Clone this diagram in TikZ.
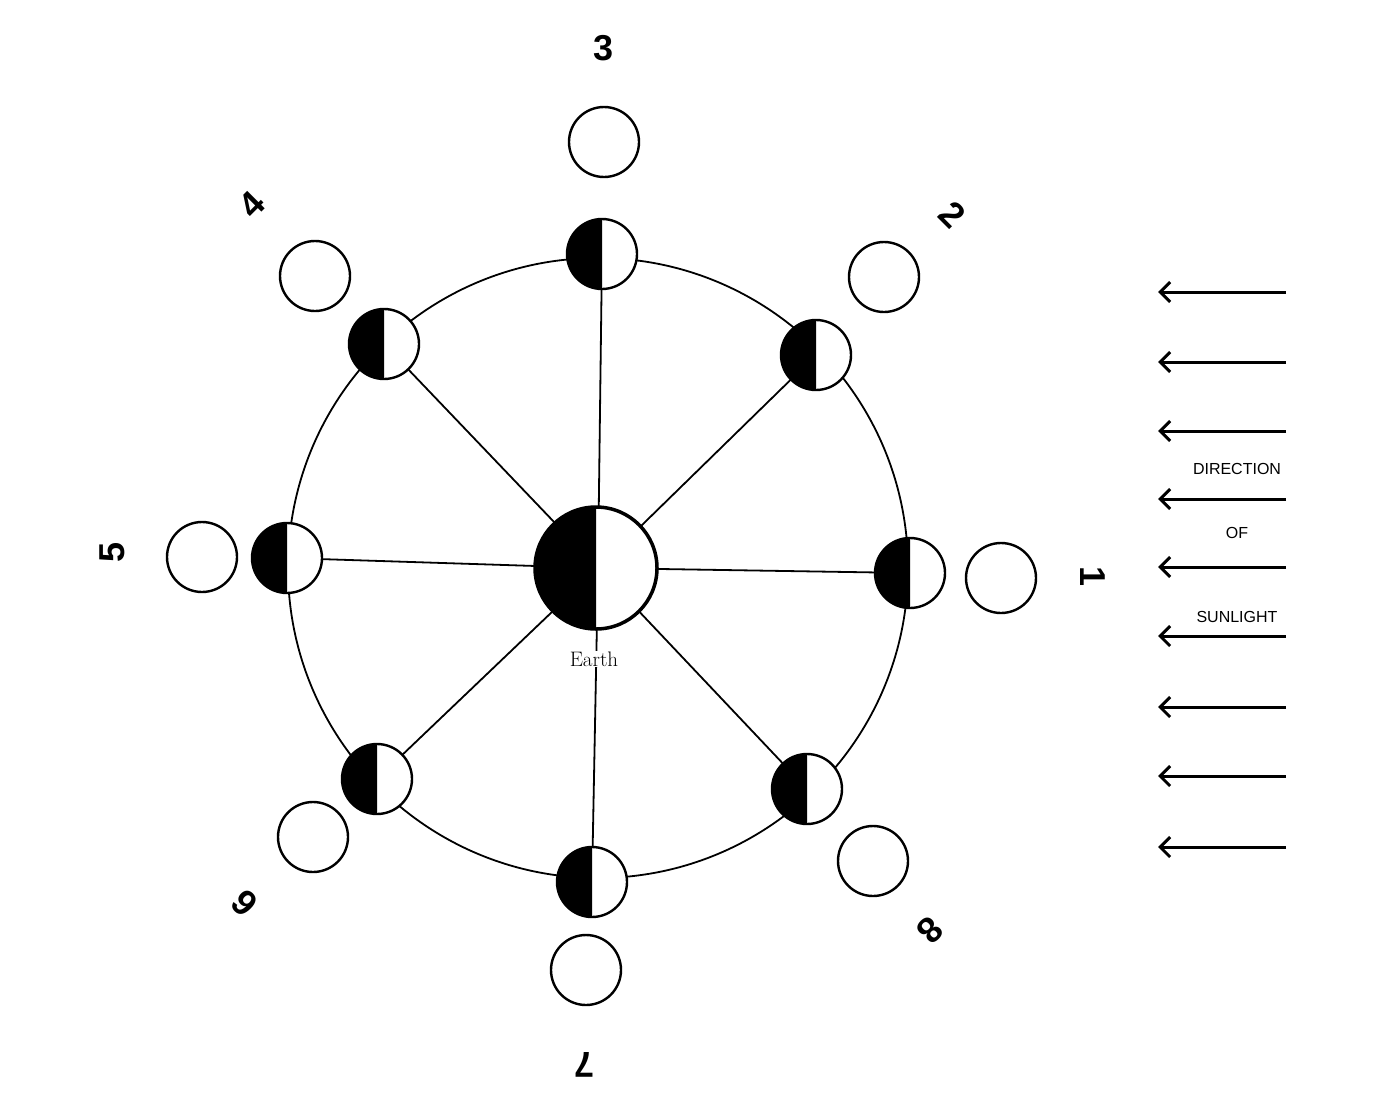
\documentclass[tikz,border=0pt]{standalone}
\usepackage{fontspec}
\newfontfamily\lab{Liberation Sans}
\usetikzlibrary{arrows.meta}
\begin{document}
\begin{tikzpicture}[x=1pt,y=-1pt,line width=2pt,
  outer/.style={circle,draw,line width=2.4pt,minimum size=70pt,inner sep=0pt},
  num/.style={font=\lab\bfseries\fontsize{36}{36}\selectfont},
  sun/.style={font=\lab\fontsize{16}{16}\selectfont},
  ray/.style={->,line width=3pt,>={Straight Barb[length=10pt,width=20pt,line width=3pt]}}]
\useasboundingbox (0,0) rectangle (1400,1100);
\coordinate (O) at (598,568);
\draw[line width=1.8pt] (O) circle[radius=310];
\foreach \n/\x/\y in {m1/910/573,m2/816/355,m3/602/254,m4/384/344,m5/287/558,m6/377/779,m7/592/882,m8/807/789}{
  \draw[line width=1.8pt] (O) -- (\x,\y);
  \fill[white] (\x,\y) circle[radius=35];
  \fill (\x,\y) ++(0,-35) arc[start angle=-90,end angle=-270,radius=35] -- cycle;
  \node[circle,draw,line width=2.4pt,minimum size=70pt,inner sep=0pt] (\n) at (\x,\y) {};
}
\fill[white] (596,568) circle[radius=61];
\fill (596,568) ++(0,-61) arc[start angle=-90,end angle=-270,radius=61] -- cycle;
\node[circle,draw,line width=3.5pt,minimum size=122pt,inner sep=0pt] (E) at (596,568) {};
\node[font=\fontsize{21}{21}\selectfont,fill=white,inner sep=1pt] (el) at (594,659) {Earth};
\foreach \n/\x/\y in {o1/1001/578,o2/884/277,o3/604/142,o4/315/276,o5/202/557,o6/313/837,o7/586/970,o8/873/861}
  \node[outer] (\n) at (\x,\y) {};
\node[num] (l1) at (1093,577) [rotate=-90] {1};
\node[num] (l2) at (952,215) [rotate=-45] {2};
\node[num] (l3) at (604,48) {3};
\node[num] (l4) at (252,205) [rotate=45] {4};
\node[num] (l5) at (112,552) [rotate=90] {5};
\node[num] (l6) at (245,903) [rotate=135] {6};
\node[num] (l7) at (584,1065) [rotate=180] {7};
\node[num] (l8) at (930,930) [rotate=-135] {8};
\foreach \i/\y in {1/292,2/362,3/431,4/499,5/567,6/636,7/707,8/776,9/847}{
  \coordinate (s\i) at (1286,\y); \coordinate (t\i) at (1158,\y);
  \draw[ray] (s\i) -- (t\i);
}
\node[sun] (d) at (1237,469) {DIRECTION};
\node[sun] (of) at (1237,533) {OF};
\node[sun] (sl) at (1237,617) {SUNLIGHT};
\end{tikzpicture}
\end{document}
